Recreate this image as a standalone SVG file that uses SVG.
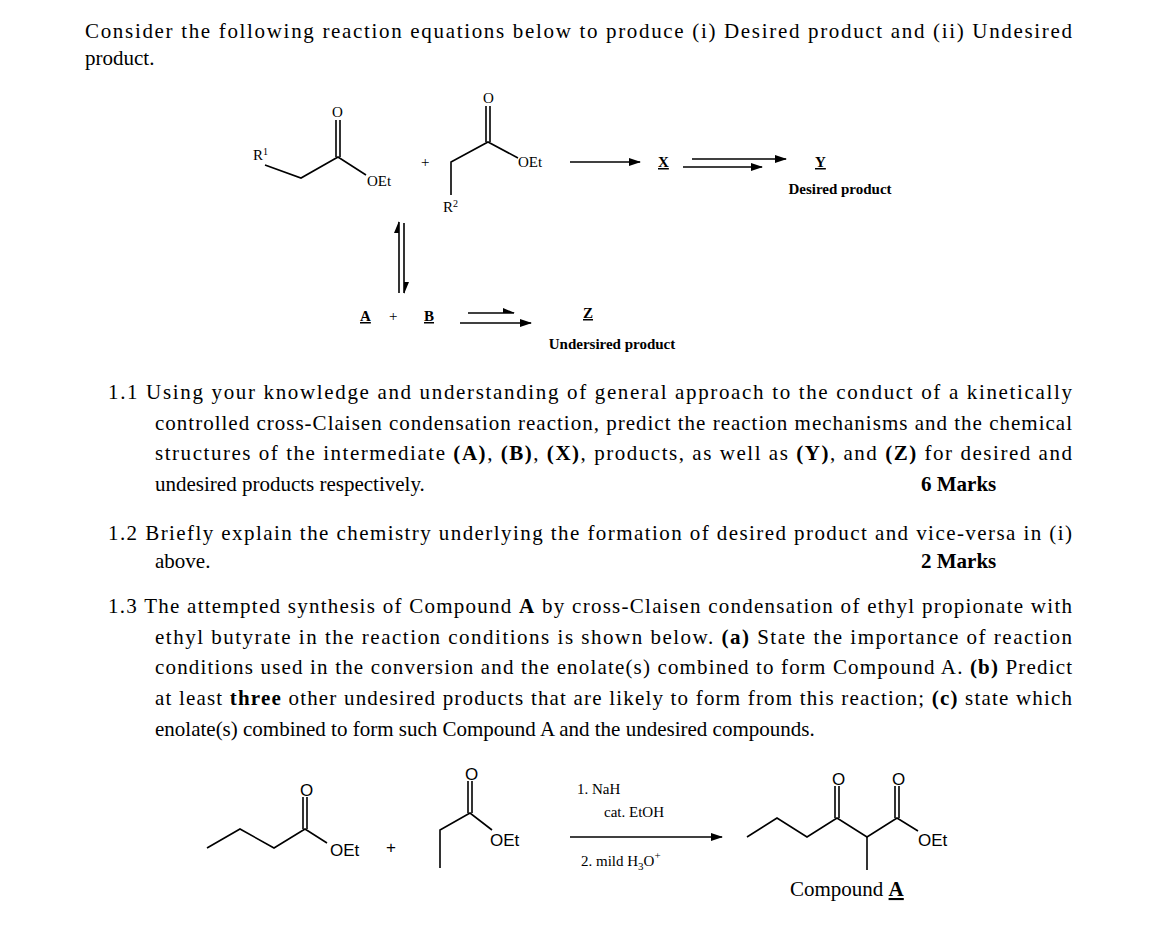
<svg xmlns="http://www.w3.org/2000/svg" width="1155" height="925" viewBox="0 0 1155 925">
<style>
.t{font-family:"Liberation Serif",serif;font-size:21px;fill:#000}
.c{font-family:"Liberation Serif",serif;font-size:15px;fill:#000}
.s{font-family:"Liberation Sans",sans-serif;font-size:17px;fill:#000}
.b{font-weight:bold}
.bd{stroke:#000;stroke-width:1.6;fill:none}
</style>
<defs>
<marker id="ah" markerWidth="12" markerHeight="8" refX="11" refY="4" orient="auto" markerUnits="userSpaceOnUse"><path d="M0,0 L12,4 L0,8 Z" fill="#000"/></marker>
<marker id="hh" markerWidth="12" markerHeight="6" refX="11" refY="5" orient="auto" markerUnits="userSpaceOnUse"><path d="M0,0 L12,5 L0,5 Z" fill="#000"/></marker>
</defs>
<rect width="1155" height="925" fill="#fff"/>
<g id="header">
<text class="t" x="85" y="38" textLength="987" lengthAdjust="spacing">Consider the following reaction equations below to produce (i) Desired product and (ii) Undesired</text>
<text class="t" x="85" y="65">product.</text>
</g>
<g id="ester1">
<polyline class="bd" points="265,165 301,178 338,157 366,175"/>
<line class="bd" x1="336" y1="157" x2="336" y2="120"/><line class="bd" x1="340" y1="157" x2="340" y2="120"/>
<text class="c" x="332" y="117">O</text>
<text class="c" x="253" y="160">R<tspan font-size="10" dy="-5">1</tspan></text>
<text class="c" x="367" y="186">OEt</text>
</g>
<text class="c" x="421" y="167">+</text>
<g id="ester2">
<polyline class="bd" points="451,195 451,162 488,142 518,158"/>
<line class="bd" x1="486" y1="142" x2="486" y2="106"/><line class="bd" x1="490" y1="142" x2="490" y2="106"/>
<text class="c" x="483" y="103">O</text>
<text class="c" x="518" y="167">OEt</text>
<text class="c" x="443" y="212">R<tspan font-size="10" dy="-5">2</tspan></text>
</g>
<g id="connectors">
<line class="bd" x1="570" y1="162" x2="640" y2="162" marker-end="url(#ah)"/>
<line class="bd" x1="692" y1="159" x2="786" y2="159" marker-end="url(#ah)"/>
<line class="bd" x1="683" y1="167" x2="762" y2="167" marker-end="url(#ah)"/>
<line class="bd" x1="399" y1="293" x2="399" y2="222" marker-end="url(#hh)"/>
<line class="bd" x1="404" y1="223" x2="404" y2="293" marker-end="url(#hh)"/>
<line class="bd" x1="468" y1="313" x2="514" y2="313" marker-end="url(#hh)"/>
<line class="bd" x1="460" y1="323" x2="531" y2="323" marker-end="url(#ah)"/>
<line class="bd" x1="570" y1="837" x2="722" y2="837" marker-end="url(#ah)"/>
</g>
<g id="X"><text class="c b" x="658" y="167" text-decoration="underline">X</text></g>
<g id="Y"><text class="c b" x="815" y="167" text-decoration="underline">Y</text>
<text class="c b" x="840" y="194" text-anchor="middle">Desired product</text></g>
<g id="AB">
<text class="c b" x="360" y="321" text-decoration="underline">A</text>
<text class="c" x="389" y="321">+</text>
<text class="c b" x="424" y="321" text-decoration="underline">B</text>
</g>
<g id="Z"><text class="c b" x="583" y="318" text-decoration="underline">Z</text>
<text class="c b" x="612" y="349" text-anchor="middle">Undersired product</text></g>
<g id="q11">
<text class="t" x="108" y="399" textLength="964" lengthAdjust="spacing">1.1 Using your knowledge and understanding of general approach to the conduct of a kinetically</text>
<text class="t" x="155" y="430" textLength="917" lengthAdjust="spacing">controlled cross-Claisen condensation reaction, predict the reaction mechanisms and the chemical</text>
<text class="t" x="155" y="460" textLength="917" lengthAdjust="spacing">structures of the intermediate <tspan class="b">(A)</tspan>, <tspan class="b">(B)</tspan>, <tspan class="b">(X)</tspan>, products, as well as <tspan class="b">(Y)</tspan>, and <tspan class="b">(Z)</tspan> for desired and</text>
<text class="t" x="155" y="491">undesired products respectively.</text>
<text class="t b" x="921" y="491">6 Marks</text>
</g>
<g id="q12">
<text class="t" x="108" y="540" textLength="964" lengthAdjust="spacing">1.2 Briefly explain the chemistry underlying the formation of desired product and vice-versa in (i)</text>
<text class="t" x="155" y="568">above.</text>
<text class="t b" x="921" y="568">2 Marks</text>
</g>
<g id="q13">
<text class="t" x="108" y="613" textLength="964" lengthAdjust="spacing">1.3 The attempted synthesis of Compound <tspan class="b">A</tspan> by cross-Claisen condensation of ethyl propionate with</text>
<text class="t" x="155" y="644" textLength="917" lengthAdjust="spacing">ethyl butyrate in the reaction conditions is shown below. <tspan class="b">(a)</tspan> State the importance of reaction</text>
<text class="t" x="155" y="674" textLength="917" lengthAdjust="spacing">conditions used in the conversion and the enolate(s) combined to form Compound A. <tspan class="b">(b)</tspan> Predict</text>
<text class="t" x="155" y="705" textLength="917" lengthAdjust="spacing">at least <tspan class="b">three</tspan> other undesired products that are likely to form from this reaction; <tspan class="b">(c)</tspan> state which</text>
<text class="t" x="155" y="736">enolate(s) combined to form such Compound A and the undesired compounds.</text>
</g>
<g id="butyrate">
<polyline class="bd" points="207,848 240,829 274,848 305,829 327,843"/>
<line class="bd" x1="303" y1="829" x2="303" y2="797"/><line class="bd" x1="307" y1="829" x2="307" y2="797"/>
<text class="s" x="300" y="796">O</text>
<text class="s" x="330" y="856">OEt</text>
</g>
<text class="s" x="386" y="853">+</text>
<g id="propionate">
<polyline class="bd" points="440,868 440,830 470,813 492,830"/>
<line class="bd" x1="468" y1="813" x2="468" y2="781"/><line class="bd" x1="472" y1="813" x2="472" y2="781"/>
<text class="s" x="465" y="780">O</text>
<text class="s" x="490" y="846">OEt</text>
</g>
<g id="conditions">
<text class="c" font-size="17" x="577" y="794">1. NaH</text>
<text class="c" font-size="17" x="604" y="817">cat. EtOH</text>
<text class="c" font-size="17" x="581" y="866">2. mild H<tspan font-size="11" dy="4">3</tspan><tspan dy="-4">O</tspan><tspan font-size="11" dy="-7">+</tspan></text>
</g>
<g id="compoundA">
<polyline class="bd" points="747,837 777,818 807,837 837,818 867,837 897,818 918,831"/>
<line class="bd" x1="867" y1="837" x2="867" y2="870"/>
<line class="bd" x1="835" y1="818" x2="835" y2="786"/><line class="bd" x1="839" y1="818" x2="839" y2="786"/>
<line class="bd" x1="895" y1="818" x2="895" y2="786"/><line class="bd" x1="899" y1="818" x2="899" y2="786"/>
<text class="s" x="832" y="785">O</text>
<text class="s" x="892" y="785">O</text>
<text class="s" x="918" y="846">OEt</text>
<text class="t" x="790" y="896">Compound <tspan class="b" text-decoration="underline">A</tspan></text>
</g>
</svg>
